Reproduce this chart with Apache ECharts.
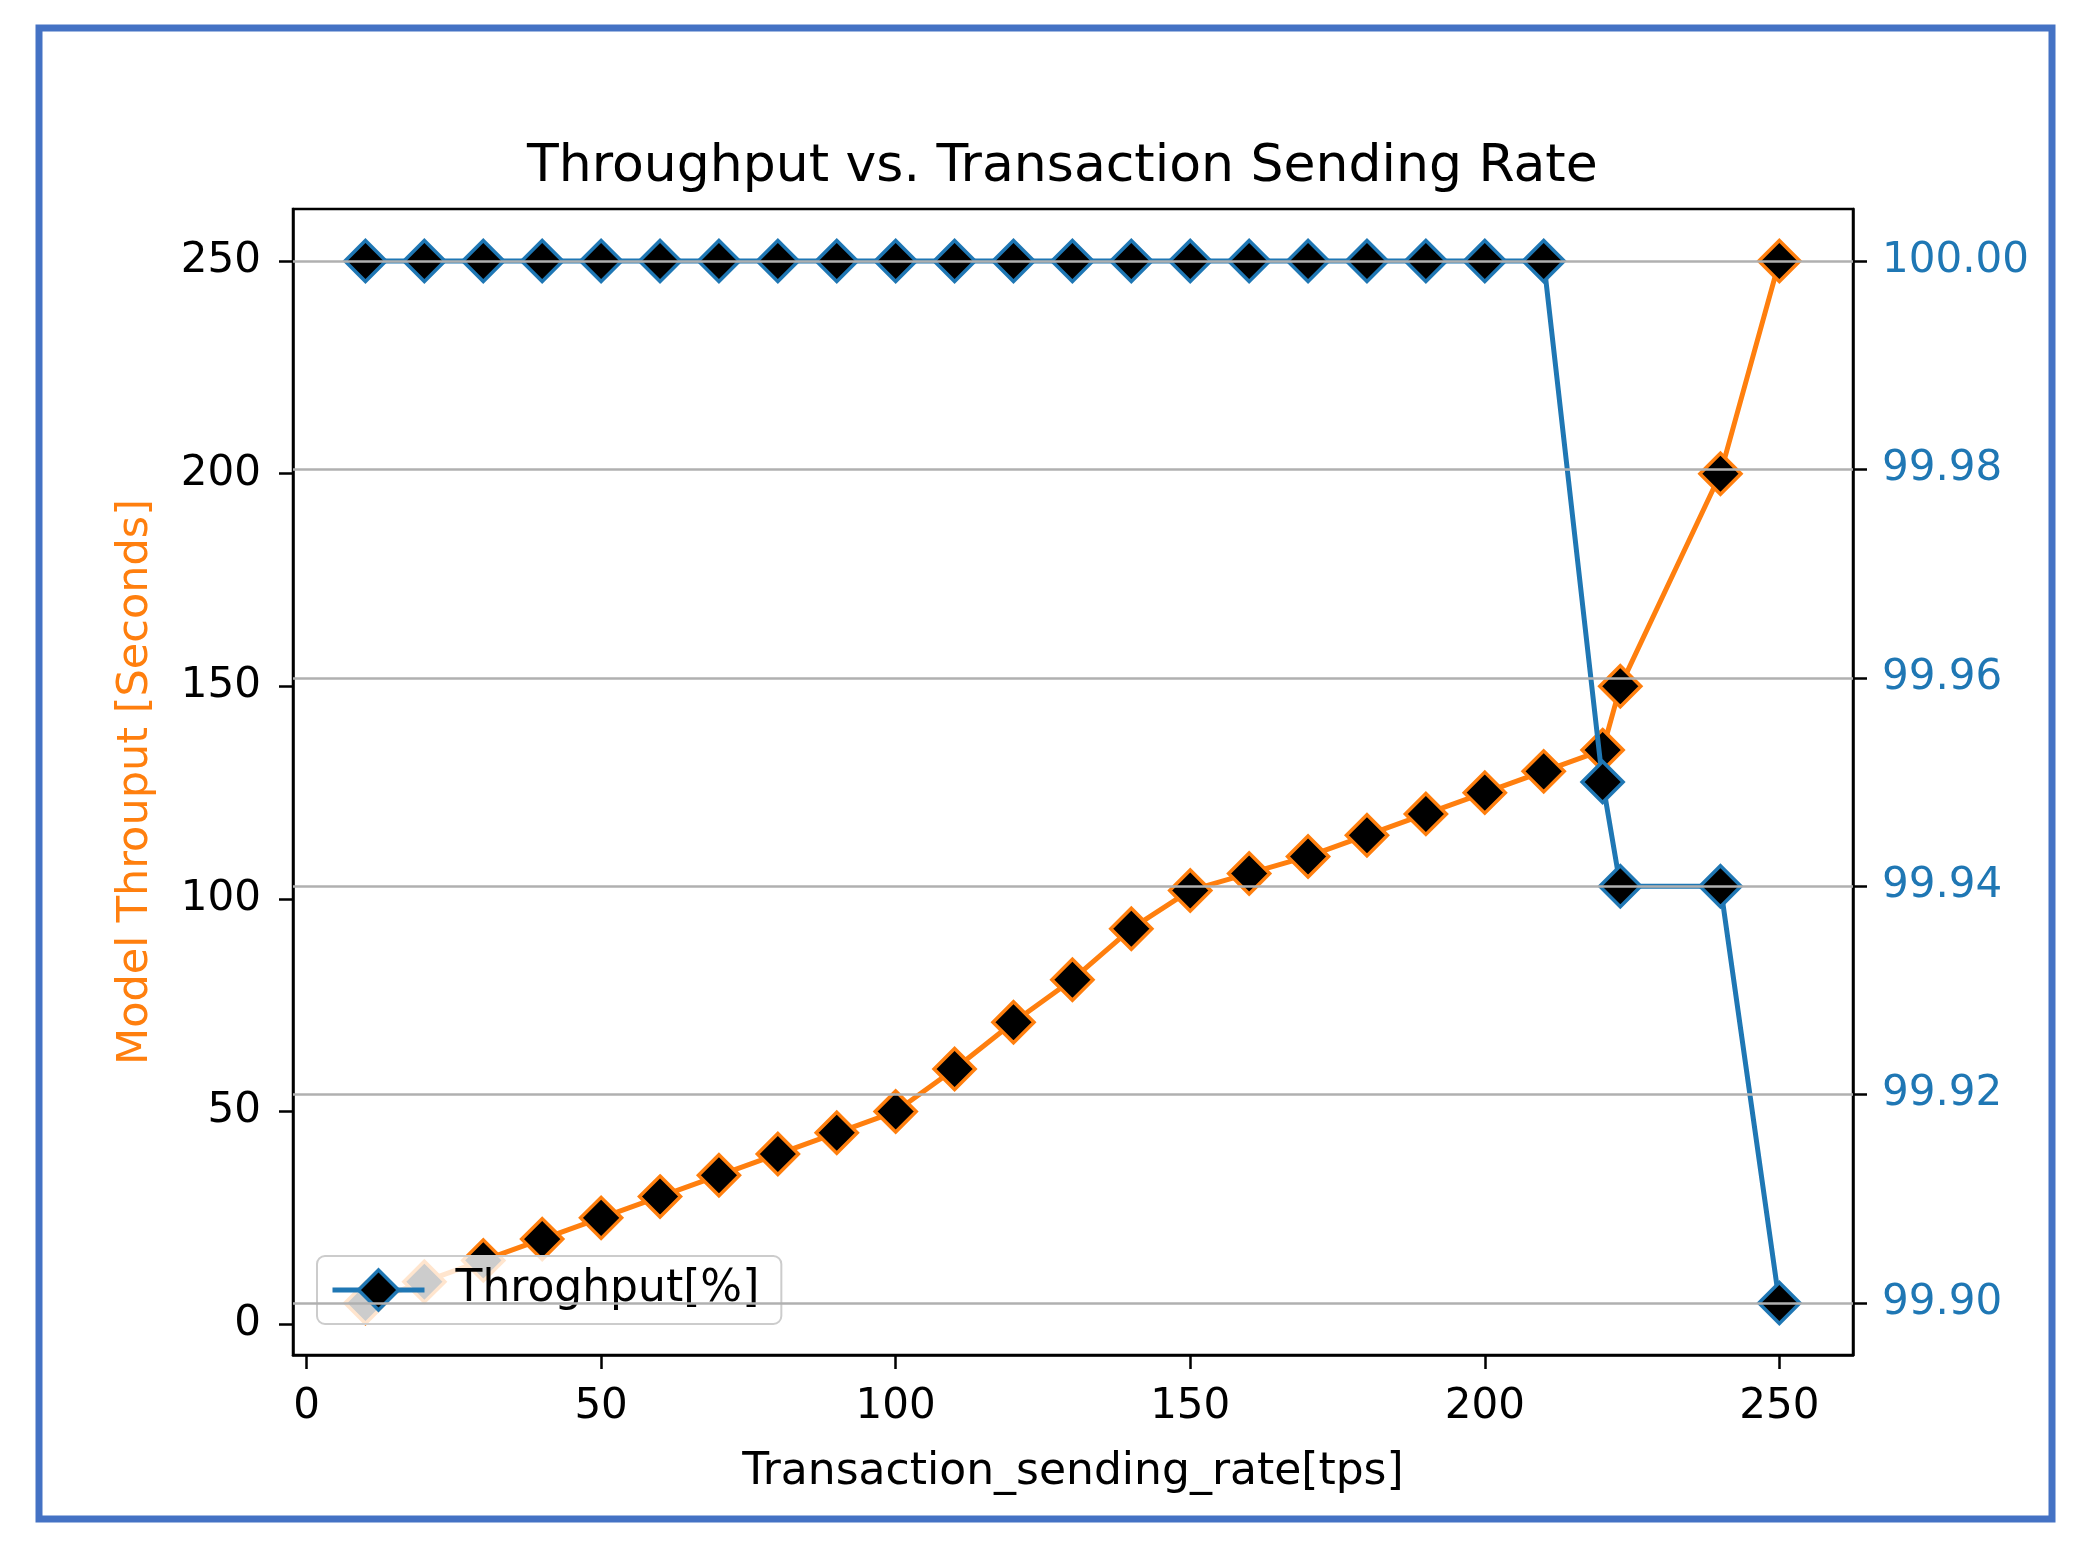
<!DOCTYPE html>
<html>
<head>
<meta charset="utf-8">
<script src="https://cdn.jsdelivr.net/npm/echarts@6/dist/echarts.min.js"></script>
<style>
html,body{margin:0;padding:0;background:#fff;}
#chart{width:2085px;height:1550px;}
</style>
</head>
<body>
<div id="chart"></div>
<script>
// ---- data ----
const sendingRate = [10,20,30,40,50,60,70,80,90,100,110,120,130,140,150,160,170,180,190,200,210,220,223,240,250];
const modelThroughput = [5,10,15,20,25,30,35,40,45,50,60,71,81,93,102,106,110,115,120,125,130,135,150,200,250];
const throughputPct = [100,100,100,100,100,100,100,100,100,100,100,100,100,100,100,100,100,100,100,100,100,99.95,99.94,99.94,99.90];
const xTicks = [0,50,100,150,200,250];
const leftTicks = [0,50,100,150,200,250];
const rightTicks = [99.90,99.92,99.94,99.96,99.98,100.00];

const ORANGE = '#ff7f0e';
const BLUE = '#1f77b4';
const FONT = 'DejaVu Sans';

const chart = echarts.init(document.getElementById('chart'), null, {renderer:'canvas'});

function pairs(xs, ys){ return xs.map((x,i)=>[x, ys[i]]); }

const option = {
  backgroundColor:'#fff',
  animation:false,
  textStyle:{fontFamily:FONT},
  title:{
    text:'Throughput vs. Transaction Sending Rate',
    left:522, top:136,
    textStyle:{fontFamily:FONT, fontSize:52, fontWeight:'normal', color:'#000'}
  },
  graphic:[{
    type:'rect', silent:true, z:100,
    shape:{x:39, y:28, width:2013, height:1491},
    style:{fill:null, stroke:'#4472c4', lineWidth:7}
  }],
  legend:{
    data:['Throghput[%]'],
    left:317, top:1256,
    itemWidth:92, itemHeight:50,
    padding:[12,22,12,13],
    backgroundColor:'rgba(255,255,255,0.8)',
    borderColor:'#cccccc', borderWidth:2, borderRadius:8,
    lineStyle:{width:5},
    itemStyle:{borderWidth:3.5},
    textStyle:{fontFamily:FONT, fontSize:44, color:'#000', padding:[0,0,0,26]}
  },
  grid:{
    left:293, right:232, top:209, bottom:195,
    show:true, borderColor:'#000', borderWidth:2.5, backgroundColor:'transparent'
  },
  xAxis:{
    type:'value', min:-2.3, max:262.5,
    name:'Transaction_sending_rate[tps]', nameLocation:'middle', nameGap:96,
    nameTextStyle:{fontFamily:FONT, fontSize:44, color:'#000'},
    axisLine:{show:true, onZero:false, lineStyle:{color:'#000', width:2.5}},
    axisTick:{show:true, inside:false, length:14, lineStyle:{color:'#000', width:2.5}, customValues:xTicks},
    axisLabel:{fontFamily:FONT, fontSize:42, color:'#000', margin:31, customValues:xTicks},
    splitLine:{show:false}
  },
  yAxis:[{
    type:'value', position:'left', min:-7.25, max:262.25,
    name:'Model Throuput [Seconds]', nameLocation:'middle', nameGap:136, nameRotate:90,
    nameTextStyle:{fontFamily:FONT, fontSize:43, color:ORANGE},
    axisLine:{show:true, onZero:false, lineStyle:{color:'#000', width:2.5}},
    axisTick:{show:true, inside:false, length:14, lineStyle:{color:'#000', width:2.5}, customValues:leftTicks},
    axisLabel:{fontFamily:FONT, fontSize:42, color:'#000', margin:32, customValues:leftTicks},
    splitLine:{show:false}
  },{
    type:'value', position:'right', min:99.895, max:100.005,
    axisLine:{show:true, onZero:false, lineStyle:{color:'#000', width:2.5}},
    axisTick:{show:true, inside:false, length:14, lineStyle:{color:'#000', width:2.5}, customValues:rightTicks},
    axisLabel:{fontFamily:FONT, fontSize:42, color:BLUE, margin:29, customValues:rightTicks,
      formatter:(v)=>Number(v).toFixed(2)},
    splitLine:{show:false}
  }],
  series:[{
    name:'Model Throughput',
    type:'line', xAxisIndex:0, yAxisIndex:0, z:2,
    data:pairs(sendingRate, modelThroughput),
    symbol:'diamond', symbolSize:[41,41],
    color:ORANGE,
    lineStyle:{color:ORANGE, width:5},
    itemStyle:{color:'#000', borderColor:ORANGE, borderWidth:3.5},
    emphasis:{disabled:true}
  },{
    name:'Throghput[%]',
    type:'line', xAxisIndex:0, yAxisIndex:1, z:3,
    data:pairs(sendingRate, throughputPct),
    symbol:'diamond', symbolSize:[41,41],
    color:BLUE,
    lineStyle:{color:BLUE, width:5},
    itemStyle:{color:'#000', borderColor:BLUE, borderWidth:3.5},
    emphasis:{disabled:true},
    markLine:{
      silent:true, symbol:['none','none'], animation:false,
      label:{show:false},
      lineStyle:{color:'#b0b0b0', width:2.5, type:'solid'},
      emphasis:{disabled:true},
      data:rightTicks.map(v=>({yAxis:v}))
    }
  }]
};
chart.setOption(option);
</script>
</body>
</html>
